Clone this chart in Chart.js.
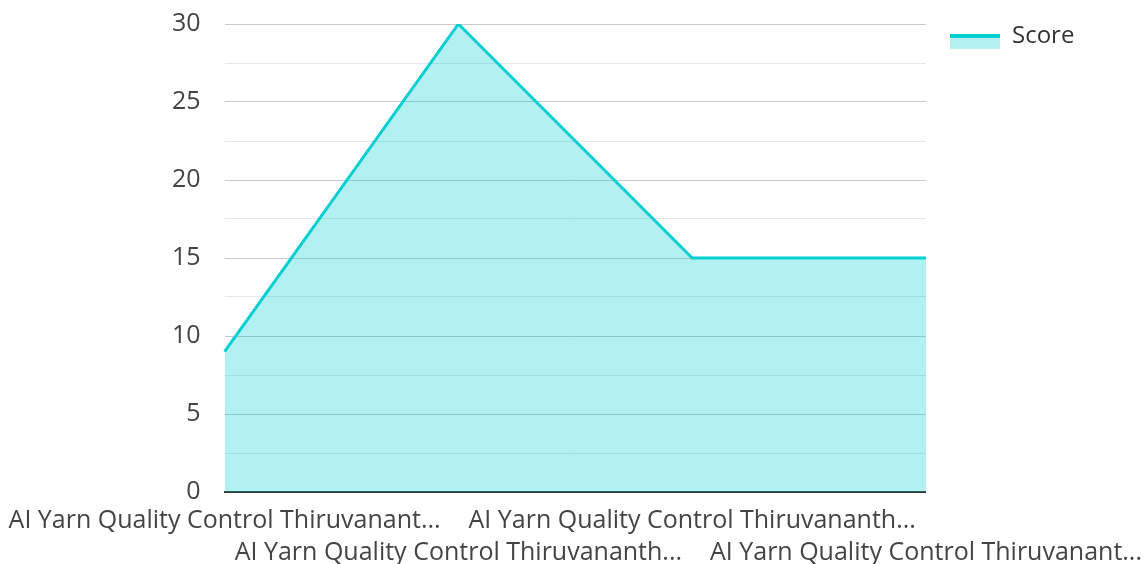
<!DOCTYPE html>
<html>
<head>
<meta charset="utf-8">
<script src="https://cdn.jsdelivr.net/npm/chart.js@4"></script>
<style>
    html, body { margin: 0; padding: 0; background: #fff; }
    #wrap { width: 1146px; height: 564px; position: relative; }
</style>
</head>
<body>
<div id="wrap"><canvas id="scoreChart"></canvas></div>
<script>
const categories = [
    'AI Yarn Quality Control Thiruvanant...',
    'AI Yarn Quality Control Thiruvananth...',
    'AI Yarn Quality Control Thiruvananth...',
    'AI Yarn Quality Control Thiruvanant...'
];
const scores = [9, 30, 15, 15];
const yTickLabels = [0, 5, 10, 15, 20, 25, 30];

const lineColor = '#00CED1';
const fillColor = 'rgba(0, 206, 209, 0.3)';

// legend swatch: thick line on top of the fill colour (left/top space is just offset)
const swatch = document.createElement('canvas');
swatch.width = 64;
swatch.height = 25;
const sctx = swatch.getContext('2d');
sctx.fillStyle = fillColor;
sctx.fillRect(14, 10, 50, 15);
sctx.fillStyle = lineColor;
sctx.fillRect(14, 10, 50, 4);

Chart.defaults.font.family = '"Open Sans", "Noto Sans", sans-serif';
Chart.defaults.font.size = 24;
Chart.defaults.color = '#444';

const ctx = document.getElementById('scoreChart').getContext('2d');

new Chart(ctx, {
    type: 'line',
    data: {
        labels: categories,
        datasets: [{
            label: 'Score',
            data: scores,
            borderColor: lineColor,
            backgroundColor: fillColor,
            borderWidth: 3,
            fill: 'origin',
            tension: 0,
            pointRadius: 0
        }]
    },
    options: {
        responsive: true,
        maintainAspectRatio: false,
        animation: false,
        layout: {
            padding: { left: 163, top: 0, bottom: -9, right: 0 }
        },
        plugins: {
            legend: {
                position: 'right',
                align: 'start',
                title: { display: true, text: ' ', padding: 0, font: { size: 12 } },
                labels: {
                    usePointStyle: true,
                    pointStyle: swatch,
                    pointStyleWidth: 64,
                    padding: 10,
                    color: '#333',
                    font: { size: 24 }
                }
            },
            tooltip: { enabled: false }
        },
        scales: {
            x: {
                grid: { display: false, drawTicks: true, tickLength: 9 },
                border: { display: true, color: '#333', width: 2 },
                ticks: {
                    autoSkip: false,
                    maxRotation: 0,
                    padding: 4,
                    font: { size: 25, lineHeight: 1.28 },
                    callback: function(value, index) {
                        const label = this.getLabelForValue(value);
                        return index % 2 === 1 ? ['', label] : label;
                    }
                }
            },
            y: {
                min: 0,
                max: 30,
                border: { display: false },
                grid: {
                    drawTicks: true,
                    tickLength: 15,
                    tickColor: 'transparent',
                    lineWidth: 1,
                    color: (c) => yTickLabels.includes(c.tick.value) ? '#c8c8c8' : '#e6e6e6'
                },
                ticks: {
                    stepSize: 2.5,
                    padding: 9,
                    autoSkip: false,
                    font: { size: 25 },
                    callback: (value) => yTickLabels.includes(value) ? value : ''
                }
            }
        }
    }
});
</script>
</body>
</html>
